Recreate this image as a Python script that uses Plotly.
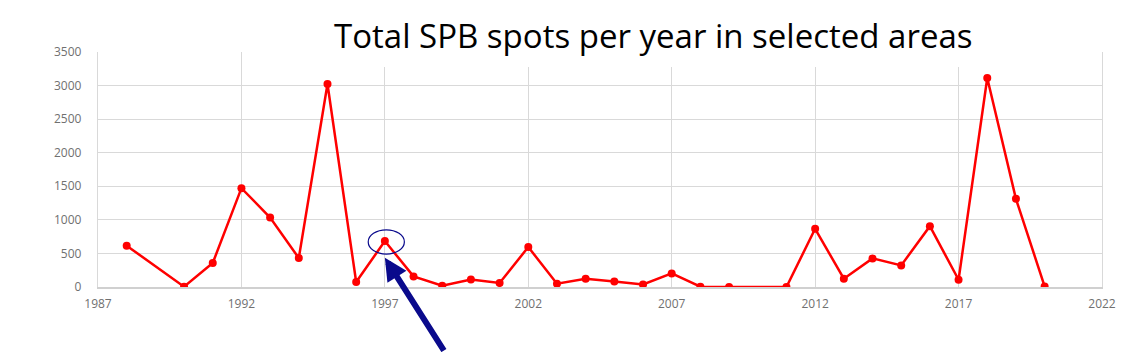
import plotly.graph_objects as go

years = [1988, 1990, 1991, 1992, 1993, 1994, 1995, 1996, 1997, 1998, 1999, 2000,
         2001, 2002, 2003, 2004, 2005, 2006, 2007, 2008, 2009, 2011, 2012, 2013,
         2014, 2015, 2016, 2017, 2018, 2019, 2020]
spots = [615, 5, 357, 1472, 1035, 431, 3024, 74, 684, 158, 19, 113,
         59, 595, 49, 123, 83, 39, 202, 5, 0, 0, 867, 123,
         426, 322, 906, 108, 3113, 1313, 9]
title_text = "Total SPB spots per year in selected areas"
x_ticks = [1987, 1992, 1997, 2002, 2007, 2012, 2017, 2022]
y_ticks = [0, 500, 1000, 1500, 2000, 2500, 3000, 3500]

W, H = 1128, 352
L, R, T, B = 98, 22, 52, 65
pw, ph = W - L - R, H - T - B

def px_x(p):
    return (p - L) / pw

def px_y(p):
    return 1 - (p - T) / ph

fig = go.Figure()
fig.add_trace(go.Scatter(
    x=years, y=spots, mode="lines+markers",
    line=dict(color="#FF0000", width=2.5),
    marker=dict(color="#FF0000", size=8),
    showlegend=False, hoverinfo="x+y",
))

fig.update_layout(
    width=W, height=H,
    margin=dict(l=L, r=R, t=T, b=B, pad=0),
    paper_bgcolor="white", plot_bgcolor="white",
    font=dict(family="Open Sans", color="#707070", size=12),
    xaxis=dict(range=[x_ticks[0], x_ticks[-1]], tickmode="array", tickvals=x_ticks,
               ticktext=[str(v) for v in x_ticks],
               showgrid=True, gridcolor="#D9D9D9", gridwidth=1.3,
               zeroline=False, showline=True, linecolor="#D0D0D0", linewidth=1.5,
               ticks="", ticklabelstandoff=5, fixedrange=True),
    yaxis=dict(range=[y_ticks[0], y_ticks[-1]], tickmode="array", tickvals=y_ticks,
               ticktext=[str(v) for v in y_ticks],
               showgrid=True, gridcolor="#D9D9D9", gridwidth=1.3,
               zeroline=False, showline=True, mirror=True,
               linecolor="#D9D9D9", linewidth=1.3,
               ticks="", ticklabelstandoff=13, fixedrange=True),
)

# white box behind the title covering the top of the grid
fig.add_shape(type="rect", xref="paper", yref="paper",
              x0=px_x(306), x1=px_x(1003), y0=px_y(67), y1=px_y(20),
              fillcolor="white", line=dict(width=0), layer="above")

fig.add_annotation(text=title_text, xref="paper", yref="paper",
                   x=px_x(655), y=px_y(36), xanchor="center", yanchor="middle",
                   showarrow=False, font=dict(family="Open Sans", size=33, color="black"))

# highlight ellipse around 1997
fig.add_shape(type="circle", xref="x", yref="y",
              x0=1996.42, x1=1997.68, y0=491, y1=852,
              line=dict(color="#0A0A8C", width=1.2), fillcolor="rgba(0,0,0,0)", layer="above")

# arrow pointing to 1997
fig.add_annotation(x=1997, y=436, xref="x", yref="y", text="",
                   showarrow=True, axref="pixel", ayref="pixel", ax=60, ay=102,
                   arrowcolor="#0A0A8C", arrowwidth=6, arrowhead=2, arrowsize=0.75,
                   standoff=0)

fig.write_html("out.html")
